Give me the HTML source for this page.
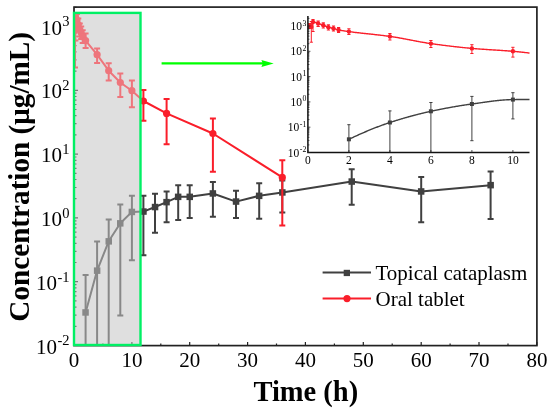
<!DOCTYPE html><html><head><meta charset="utf-8"><style>html,body{margin:0;padding:0;background:#fff;}svg{display:block;}text{font-family:"Liberation Serif","Times New Roman",serif;}</style></head><body><svg width="550" height="413" viewBox="0 0 550 413"><rect width="550" height="413" fill="#fff"/><defs><clipPath id="cp"><rect x="74.0" y="12.0" width="462.9" height="333.6"/></clipPath><clipPath id="ci"><rect x="307.9" y="10.0" width="221.6" height="142.5"/></clipPath></defs><rect x="74.0" y="12.9" width="66.5" height="332.1" fill="#dfdfdf"/><path d="M74.0,345.6V342.1M102.9,345.6V343.6M131.9,345.6V342.1M160.8,345.6V343.6M189.7,345.6V342.1M218.7,345.6V343.6M247.6,345.6V342.1M276.5,345.6V343.6M305.4,345.6V342.1M334.4,345.6V343.6M363.3,345.6V342.1M392.2,345.6V343.6M421.2,345.6V342.1M450.1,345.6V343.6M479.0,345.6V342.1M508.0,345.6V343.6M536.9,345.6V342.1M74.0,345.5H78.0M74.0,326.3H76.5M74.0,315.1H76.5M74.0,307.1H76.5M74.0,300.9H76.5M74.0,295.9H76.5M74.0,291.6H76.5M74.0,287.9H76.5M74.0,284.6H76.5M74.0,281.7H78.0M74.0,262.5H76.5M74.0,251.3H76.5M74.0,243.3H76.5M74.0,237.1H76.5M74.0,232.1H76.5M74.0,227.8H76.5M74.0,224.1H76.5M74.0,220.8H76.5M74.0,217.9H78.0M74.0,198.7H76.5M74.0,187.5H76.5M74.0,179.5H76.5M74.0,173.3H76.5M74.0,168.3H76.5M74.0,164.0H76.5M74.0,160.3H76.5M74.0,157.0H76.5M74.0,154.1H78.0M74.0,134.9H76.5M74.0,123.7H76.5M74.0,115.7H76.5M74.0,109.5H76.5M74.0,104.5H76.5M74.0,100.2H76.5M74.0,96.5H76.5M74.0,93.2H76.5M74.0,90.3H78.0M74.0,71.1H76.5M74.0,59.9H76.5M74.0,51.9H76.5M74.0,45.7H76.5M74.0,40.7H76.5M74.0,36.4H76.5M74.0,32.7H76.5M74.0,29.4H76.5M74.0,26.5H78.0M74.0,7.3H76.5" stroke="#222" stroke-width="1.2" fill="none"/><g clip-path="url(#cp)"><path d="M85.6,312.5 L97.1,270.6 L108.7,241.3 L120.3,223.3 L131.9,211.9 L143.4,211.6 L155.0,207.0 L166.6,202.2 L178.2,196.8 L189.7,196.8 L212.9,193.5 L236.0,201.6 L259.2,195.8 L282.3,192.5 L351.7,181.6 L421.2,191.4 L490.6,185.2" fill="none" stroke="#404040" stroke-width="2.00" stroke-linejoin="round"/><path d="M85.6,275.0V350.0M82.6,275.0H88.6M82.6,350.0H88.6M97.1,241.4V350.0M94.1,241.4H100.1M94.1,350.0H100.1M108.7,219.5V350.0M105.7,219.5H111.7M105.7,350.0H111.7M120.3,204.5V315.5M117.3,204.5H123.3M117.3,315.5H123.3M131.9,195.8V260.2M128.9,195.8H134.9M128.9,260.2H134.9M143.4,195.7V255.2M140.4,195.7H146.4M140.4,255.2H146.4M155.0,193.7V232.7M152.0,193.7H158.0M152.0,232.7H158.0M166.6,191.6V222.3M163.6,191.6H169.6M163.6,222.3H169.6M178.2,185.2V220.1M175.2,185.2H181.2M175.2,220.1H181.2M189.7,185.2V217.9M186.7,185.2H192.7M186.7,217.9H192.7M212.9,182.0V216.8M209.9,182.0H215.9M209.9,216.8H215.9M236.0,190.7V218.0M233.0,190.7H239.0M233.0,218.0H239.0M259.2,183.3V218.7M256.2,183.3H262.2M256.2,218.7H262.2M282.3,180.5V212.5M279.3,180.5H285.3M279.3,212.5H285.3M351.7,169.2V204.8M348.7,169.2H354.7M348.7,204.8H354.7M421.2,177.0V222.2M418.2,177.0H424.2M418.2,222.2H424.2M490.6,171.5V218.9M487.6,171.5H493.6M487.6,218.9H493.6" fill="none" stroke="#404040" stroke-width="2.00"/><rect x="82.3" y="309.2" width="6.5" height="6.5" fill="#404040"/><rect x="93.9" y="267.4" width="6.5" height="6.5" fill="#404040"/><rect x="105.5" y="238.1" width="6.5" height="6.5" fill="#404040"/><rect x="117.0" y="220.1" width="6.5" height="6.5" fill="#404040"/><rect x="128.6" y="208.7" width="6.5" height="6.5" fill="#404040"/><rect x="140.2" y="208.3" width="6.5" height="6.5" fill="#404040"/><rect x="151.8" y="203.8" width="6.5" height="6.5" fill="#404040"/><rect x="163.3" y="198.9" width="6.5" height="6.5" fill="#404040"/><rect x="174.9" y="193.6" width="6.5" height="6.5" fill="#404040"/><rect x="186.5" y="193.6" width="6.5" height="6.5" fill="#404040"/><rect x="209.6" y="190.2" width="6.5" height="6.5" fill="#404040"/><rect x="232.8" y="198.3" width="6.5" height="6.5" fill="#404040"/><rect x="255.9" y="192.6" width="6.5" height="6.5" fill="#404040"/><rect x="279.1" y="189.2" width="6.5" height="6.5" fill="#404040"/><rect x="348.5" y="178.3" width="6.5" height="6.5" fill="#404040"/><rect x="417.9" y="188.2" width="6.5" height="6.5" fill="#404040"/><rect x="487.4" y="181.9" width="6.5" height="6.5" fill="#404040"/><path d="M74.5,26.5 L75.0,28.8 L75.4,16.4 L76.9,20.2 L78.3,24.7 L79.8,29.5 L81.2,32.8 L82.7,36.6 L85.6,40.6 L97.1,54.7 L108.7,70.7 L120.3,82.5 L131.9,90.7 L143.4,101.0 L166.6,113.4 L212.9,133.5 L282.3,177.4" fill="none" stroke="#fa1e2a" stroke-width="2.00" stroke-linejoin="round"/><path d="M74.5,20.2V32.8M71.5,20.2H77.5M71.5,32.8H77.5M75.0,15.2V67.4M72.0,15.2H78.0M72.0,67.4H78.0M75.4,10.1V40.4M72.4,10.1H78.4M72.4,40.4H78.4M76.9,13.9V27.8M73.9,13.9H79.9M73.9,27.8H79.9M78.3,18.4V31.5M75.3,18.4H81.3M75.3,31.5H81.3M79.8,23.5V36.6M76.8,23.5H82.8M76.8,36.6H82.8M81.2,26.5V39.1M78.2,26.5H84.2M78.2,39.1H84.2M82.7,30.3V42.9M79.7,30.3H85.7M79.7,42.9H85.7M85.6,33.6V47.9M82.6,33.6H88.6M82.6,47.9H88.6M97.1,48.5V62.9M94.1,48.5H100.1M94.1,62.9H100.1M108.7,63.3V80.4M105.7,63.3H111.7M105.7,80.4H111.7M120.3,73.6V96.9M117.3,73.6H123.3M117.3,96.9H123.3M131.9,80.4V107.2M128.9,80.4H134.9M128.9,107.2H134.9M143.4,89.9V120.8M140.4,89.9H146.4M140.4,120.8H146.4M166.6,99.0V144.3M163.6,99.0H169.6M163.6,144.3H169.6M212.9,118.6V171.8M209.9,118.6H215.9M209.9,171.8H215.9M282.3,160.2V225.6M279.3,160.2H285.3M279.3,225.6H285.3" fill="none" stroke="#fa1e2a" stroke-width="2.00"/><circle cx="74.5" cy="26.5" r="3.6" fill="#fa1e2a"/><circle cx="75.0" cy="28.8" r="3.6" fill="#fa1e2a"/><circle cx="75.4" cy="16.4" r="3.6" fill="#fa1e2a"/><circle cx="76.9" cy="20.2" r="3.6" fill="#fa1e2a"/><circle cx="78.3" cy="24.7" r="3.6" fill="#fa1e2a"/><circle cx="79.8" cy="29.5" r="3.6" fill="#fa1e2a"/><circle cx="81.2" cy="32.8" r="3.6" fill="#fa1e2a"/><circle cx="82.7" cy="36.6" r="3.6" fill="#fa1e2a"/><circle cx="85.6" cy="40.6" r="3.6" fill="#fa1e2a"/><circle cx="97.1" cy="54.7" r="3.6" fill="#fa1e2a"/><circle cx="108.7" cy="70.7" r="3.6" fill="#fa1e2a"/><circle cx="120.3" cy="82.5" r="3.6" fill="#fa1e2a"/><circle cx="131.9" cy="90.7" r="3.6" fill="#fa1e2a"/><circle cx="143.4" cy="101.0" r="3.6" fill="#fa1e2a"/><circle cx="166.6" cy="113.4" r="3.6" fill="#fa1e2a"/><circle cx="212.9" cy="133.5" r="3.6" fill="#fa1e2a"/><circle cx="282.3" cy="177.4" r="3.6" fill="#fa1e2a"/></g><rect x="74.0" y="12.9" width="66.5" height="332.1" fill="#dfdfdf" fill-opacity="0.45"/><rect x="74.0" y="7.1" width="462.9" height="338.5" fill="none" stroke="#222" stroke-width="1.7"/><rect x="74.0" y="12.9" width="66.5" height="332.1" fill="none" stroke="#00f064" stroke-width="2.4"/><path d="M161.6,63.4H263" stroke="#00ff00" stroke-width="2.4"/><path d="M273.7,63.4L261.4,60L262.8,63.4L261.4,66.9Z" fill="#00ff00"/><text x="74.0" y="366.8" font-size="21" text-anchor="middle">0</text><text x="131.9" y="366.8" font-size="21" text-anchor="middle">10</text><text x="189.7" y="366.8" font-size="21" text-anchor="middle">20</text><text x="247.6" y="366.8" font-size="21" text-anchor="middle">30</text><text x="305.4" y="366.8" font-size="21" text-anchor="middle">40</text><text x="363.3" y="366.8" font-size="21" text-anchor="middle">50</text><text x="421.2" y="366.8" font-size="21" text-anchor="middle">60</text><text x="479.0" y="366.8" font-size="21" text-anchor="middle">70</text><text x="536.9" y="366.8" font-size="21" text-anchor="middle">80</text><text x="69.6" y="353.5" font-size="21" text-anchor="end">10<tspan dx="0.4" dy="-8.2" font-size="14.5">-2</tspan></text><text x="69.6" y="289.7" font-size="21" text-anchor="end">10<tspan dx="0.4" dy="-8.2" font-size="14.5">-1</tspan></text><text x="69.6" y="225.9" font-size="21" text-anchor="end">10<tspan dx="0.4" dy="-8.2" font-size="14.5">0</tspan></text><text x="69.6" y="162.1" font-size="21" text-anchor="end">10<tspan dx="0.4" dy="-8.2" font-size="14.5">1</tspan></text><text x="69.6" y="98.3" font-size="21" text-anchor="end">10<tspan dx="0.4" dy="-8.2" font-size="14.5">2</tspan></text><text x="69.6" y="34.5" font-size="21" text-anchor="end">10<tspan dx="0.4" dy="-8.2" font-size="14.5">3</tspan></text><text x="305.8" y="400.8" font-size="28.5" font-weight="bold" text-anchor="middle">Time (h)</text><text transform="translate(28.7,176.8) rotate(-90)" font-size="29.2" font-weight="bold" text-anchor="middle">Concentration (μg/mL)</text><path d="M322.6,272.6H371" stroke="#404040" stroke-width="2"/><rect x="343.7" y="269.8" width="6.3" height="6.3" fill="#404040"/><path d="M322.6,298.6H371" stroke="#fa1e2a" stroke-width="2"/><circle cx="347" cy="298.6" r="3.6" fill="#fa1e2a"/><text x="375.5" y="279.6" font-size="21">Topical cataplasm</text><text x="375.5" y="305.6" font-size="21">Oral tablet</text><g clip-path="url(#ci)"><path d="M348.90,139.30 L349.52,139.01 L350.13,138.71 L350.75,138.42 L351.37,138.13 L351.98,137.84 L352.60,137.55 L353.22,137.26 L353.83,136.98 L354.45,136.69 L355.07,136.41 L355.68,136.12 L356.30,135.84 L356.92,135.56 L357.53,135.28 L358.15,135.00 L358.76,134.72 L359.38,134.45 L360.00,134.17 L360.61,133.90 L361.23,133.62 L361.85,133.35 L362.46,133.08 L363.08,132.81 L363.70,132.54 L364.31,132.28 L364.93,132.01 L365.55,131.75 L366.16,131.49 L366.78,131.23 L367.40,130.97 L368.01,130.71 L368.63,130.45 L369.25,130.19 L369.86,129.94 L370.48,129.69 L371.10,129.43 L371.71,129.18 L372.33,128.94 L372.95,128.69 L373.56,128.44 L374.18,128.20 L374.79,127.96 L375.41,127.71 L376.03,127.47 L376.64,127.24 L377.26,127.00 L377.88,126.76 L378.49,126.53 L379.11,126.30 L379.73,126.07 L380.34,125.84 L380.96,125.61 L381.58,125.39 L382.19,125.16 L382.81,124.94 L383.43,124.72 L384.04,124.50 L384.66,124.28 L385.28,124.06 L385.89,123.85 L386.51,123.64 L387.13,123.43 L387.74,123.22 L388.36,123.01 L388.98,122.81 L389.59,122.60 L390.21,122.40 L390.82,122.20 L391.44,122.00 L392.06,121.80 L392.67,121.60 L393.29,121.40 L393.91,121.21 L394.52,121.01 L395.14,120.82 L395.76,120.62 L396.37,120.43 L396.99,120.24 L397.61,120.05 L398.22,119.86 L398.84,119.67 L399.46,119.48 L400.07,119.30 L400.69,119.11 L401.31,118.93 L401.92,118.74 L402.54,118.56 L403.16,118.38 L403.77,118.20 L404.39,118.02 L405.01,117.84 L405.62,117.66 L406.24,117.49 L406.85,117.31 L407.47,117.14 L408.09,116.97 L408.70,116.79 L409.32,116.62 L409.94,116.45 L410.55,116.28 L411.17,116.11 L411.79,115.95 L412.40,115.78 L413.02,115.62 L413.64,115.45 L414.25,115.29 L414.87,115.13 L415.49,114.97 L416.10,114.81 L416.72,114.65 L417.34,114.49 L417.95,114.33 L418.57,114.18 L419.19,114.03 L419.80,113.87 L420.42,113.72 L421.04,113.57 L421.65,113.42 L422.27,113.27 L422.88,113.12 L423.50,112.98 L424.12,112.83 L424.73,112.68 L425.35,112.54 L425.97,112.40 L426.58,112.26 L427.20,112.12 L427.82,111.98 L428.43,111.84 L429.05,111.70 L429.67,111.57 L430.28,111.43 L430.90,111.30 L431.52,111.17 L432.13,111.04 L432.75,110.90 L433.37,110.77 L433.98,110.64 L434.60,110.51 L435.22,110.38 L435.83,110.26 L436.45,110.13 L437.07,110.00 L437.68,109.87 L438.30,109.75 L438.92,109.62 L439.53,109.50 L440.15,109.37 L440.76,109.25 L441.38,109.13 L442.00,109.01 L442.61,108.88 L443.23,108.76 L443.85,108.64 L444.46,108.52 L445.08,108.41 L445.70,108.29 L446.31,108.17 L446.93,108.05 L447.55,107.94 L448.16,107.82 L448.78,107.71 L449.40,107.60 L450.01,107.48 L450.63,107.37 L451.25,107.26 L451.86,107.15 L452.48,107.04 L453.10,106.93 L453.71,106.82 L454.33,106.71 L454.95,106.61 L455.56,106.50 L456.18,106.40 L456.79,106.29 L457.41,106.19 L458.03,106.09 L458.64,105.98 L459.26,105.88 L459.88,105.78 L460.49,105.68 L461.11,105.58 L461.73,105.49 L462.34,105.39 L462.96,105.29 L463.58,105.20 L464.19,105.10 L464.81,105.01 L465.43,104.92 L466.04,104.83 L466.66,104.74 L467.28,104.65 L467.89,104.56 L468.51,104.47 L469.13,104.38 L469.74,104.29 L470.36,104.21 L470.98,104.12 L471.59,104.04 L472.21,103.96 L472.82,103.88 L473.44,103.79 L474.06,103.71 L474.67,103.62 L475.29,103.53 L475.91,103.45 L476.52,103.36 L477.14,103.27 L477.76,103.19 L478.37,103.10 L478.99,103.01 L479.61,102.92 L480.22,102.83 L480.84,102.75 L481.46,102.66 L482.07,102.57 L482.69,102.48 L483.31,102.39 L483.92,102.31 L484.54,102.22 L485.16,102.13 L485.77,102.05 L486.39,101.96 L487.01,101.87 L487.62,101.79 L488.24,101.71 L488.85,101.62 L489.47,101.54 L490.09,101.46 L490.70,101.38 L491.32,101.30 L491.94,101.22 L492.55,101.14 L493.17,101.07 L493.79,100.99 L494.40,100.92 L495.02,100.84 L495.64,100.77 L496.25,100.70 L496.87,100.64 L497.49,100.57 L498.10,100.50 L498.72,100.44 L499.34,100.38 L499.95,100.32 L500.57,100.26 L501.19,100.21 L501.80,100.15 L502.42,100.10 L503.04,100.05 L503.65,100.01 L504.27,99.96 L504.88,99.92 L505.50,99.88 L506.12,99.84 L506.73,99.80 L507.35,99.77 L507.97,99.74 L508.58,99.71 L509.20,99.69 L509.82,99.67 L510.43,99.65 L511.05,99.63 L511.67,99.62 L512.28,99.61 L512.90,99.60 L513.52,99.59 L514.13,99.59 L514.75,99.58 L515.37,99.58 L515.98,99.57 L516.60,99.57 L517.22,99.56 L517.83,99.56 L518.45,99.56 L519.07,99.55 L519.68,99.55 L520.30,99.55 L520.92,99.54 L521.53,99.54 L522.15,99.54 L522.76,99.53 L523.38,99.53 L524.00,99.53 L524.61,99.52 L525.23,99.52 L525.85,99.52 L526.46,99.52 L527.08,99.51 L527.70,99.51 L528.31,99.51 L528.93,99.51 L529.55,99.51 L530.16,99.50 L530.78,99.50 L531.40,99.50 L532.01,99.50 L532.63,99.50 L533.25,99.49 L533.86,99.49 L534.48,99.49 L535.10,99.49 L535.71,99.49 L536.33,99.48 L536.95,99.48 L537.56,99.48 L538.18,99.48 L538.79,99.48 L539.41,99.47 L540.03,99.47 L540.64,99.47 L541.26,99.47 L541.88,99.47 L542.49,99.46 L543.11,99.46 L543.73,99.46 L544.34,99.46 L544.96,99.45 L545.58,99.45 L546.19,99.45 L546.81,99.45 L547.43,99.44 L548.04,99.44 L548.66,99.44 L549.28,99.43 L549.89,99.43 L550.51,99.42 L551.13,99.42 L551.74,99.42 L552.36,99.41 L552.98,99.41 L553.59,99.40 L554.21,99.40 L554.82,99.39 L555.44,99.39 L556.06,99.38 L556.67,99.37 L557.29,99.37 L557.91,99.36 L558.52,99.35 L559.14,99.35 L559.76,99.34 L560.37,99.33 L560.99,99.32 L561.61,99.31 L562.22,99.30 L562.84,99.29 L563.46,99.28 L564.07,99.27 L564.69,99.26 L565.31,99.25 L565.92,99.24 L566.54,99.23 L567.16,99.22 L567.77,99.21 L568.39,99.19 L569.01,99.18 L569.62,99.17 L570.24,99.16 L570.85,99.14 L571.47,99.13 L572.09,99.12 L572.70,99.10 L573.32,99.09 L573.94,99.08 L574.55,99.06 L575.17,99.05 L575.79,99.03 L576.40,99.02 L577.02,99.00 L577.64,98.99 L578.25,98.97 L578.87,98.96 L579.49,98.94 L580.10,98.92 L580.72,98.91 L581.34,98.89 L581.95,98.88 L582.57,98.86 L583.19,98.84 L583.80,98.82 L584.42,98.81 L585.04,98.79 L585.65,98.77 L586.27,98.76 L586.88,98.74 L587.50,98.72 L588.12,98.70 L588.73,98.68 L589.35,98.67 L589.97,98.65 L590.58,98.63 L591.20,98.61 L591.82,98.59 L592.43,98.57 L593.05,98.56 L593.67,98.54 L594.28,98.52 L594.90,98.50" fill="none" stroke="#404040" stroke-width="1.4"/><path d="M348.9,124.7V160.0M347.3,124.7H350.5M347.3,160.0H350.5M389.9,110.9V160.0M388.3,110.9H391.5M388.3,160.0H391.5M430.9,102.5V160.0M429.3,102.5H432.5M429.3,160.0H432.5M471.9,96.4V140.7M470.3,96.4H473.5M470.3,140.7H473.5M512.9,92.7V118.9M511.3,92.7H514.5M511.3,118.9H514.5M553.9,93.0V115.0M552.3,93.0H555.5M552.3,115.0H555.5M594.9,92.0V110.0M593.3,92.0H596.5M593.3,110.0H596.5" fill="none" stroke="#404040" stroke-width="1.0"/><rect x="346.9" y="137.3" width="4" height="4" fill="#404040"/><rect x="387.9" y="120.5" width="4" height="4" fill="#404040"/><rect x="428.9" y="109.3" width="4" height="4" fill="#404040"/><rect x="469.9" y="102.0" width="4" height="4" fill="#404040"/><rect x="510.9" y="97.6" width="4" height="4" fill="#404040"/><rect x="551.9" y="97.4" width="4" height="4" fill="#404040"/><rect x="592.9" y="96.5" width="4" height="4" fill="#404040"/><path d="M309.60,26.00 L310.42,26.77 L311.24,26.90 L312.05,24.96 L312.87,22.11 L313.69,22.05 L314.51,22.21 L315.33,22.45 L316.14,22.75 L316.96,23.07 L317.78,23.38 L318.60,23.64 L319.41,23.92 L320.23,24.20 L321.05,24.49 L321.87,24.79 L322.69,25.09 L323.50,25.38 L324.32,25.69 L325.14,26.01 L325.96,26.33 L326.78,26.65 L327.59,26.94 L328.41,27.20 L329.23,27.44 L330.05,27.65 L330.86,27.85 L331.68,28.04 L332.50,28.24 L333.32,28.44 L334.14,28.67 L334.95,28.93 L335.77,29.19 L336.59,29.45 L337.41,29.69 L338.22,29.90 L339.04,30.08 L339.86,30.24 L340.68,30.39 L341.50,30.54 L342.31,30.67 L343.13,30.80 L343.95,30.92 L344.77,31.04 L345.58,31.15 L346.40,31.26 L347.22,31.37 L348.04,31.48 L348.86,31.59 L349.67,31.71 L350.49,31.82 L351.31,31.92 L352.13,32.03 L352.94,32.13 L353.76,32.24 L354.58,32.34 L355.40,32.44 L356.22,32.53 L357.03,32.63 L357.85,32.73 L358.67,32.82 L359.49,32.91 L360.30,33.00 L361.12,33.10 L361.94,33.19 L362.76,33.28 L363.58,33.36 L364.39,33.45 L365.21,33.54 L366.03,33.63 L366.85,33.71 L367.66,33.80 L368.48,33.89 L369.30,33.98 L370.12,34.06 L370.94,34.15 L371.75,34.24 L372.57,34.32 L373.39,34.41 L374.21,34.50 L375.02,34.59 L375.84,34.68 L376.66,34.77 L377.48,34.86 L378.30,34.95 L379.11,35.04 L379.93,35.14 L380.75,35.23 L381.57,35.33 L382.38,35.43 L383.20,35.53 L384.02,35.63 L384.84,35.73 L385.66,35.83 L386.47,35.94 L387.29,36.04 L388.11,36.15 L388.93,36.26 L389.74,36.38 L390.56,36.49 L391.38,36.61 L392.20,36.74 L393.02,36.86 L393.83,36.99 L394.65,37.12 L395.47,37.25 L396.29,37.39 L397.11,37.53 L397.92,37.67 L398.74,37.81 L399.56,37.96 L400.38,38.11 L401.19,38.25 L402.01,38.40 L402.83,38.56 L403.65,38.71 L404.47,38.86 L405.28,39.02 L406.10,39.17 L406.92,39.33 L407.74,39.49 L408.55,39.64 L409.37,39.80 L410.19,39.96 L411.01,40.12 L411.83,40.28 L412.64,40.43 L413.46,40.59 L414.28,40.75 L415.10,40.90 L415.91,41.06 L416.73,41.21 L417.55,41.37 L418.37,41.52 L419.19,41.67 L420.00,41.82 L420.82,41.97 L421.64,42.11 L422.46,42.26 L423.27,42.40 L424.09,42.54 L424.91,42.68 L425.73,42.81 L426.55,42.94 L427.36,43.07 L428.18,43.20 L429.00,43.32 L429.82,43.44 L430.63,43.56 L431.45,43.68 L432.27,43.79 L433.09,43.91 L433.91,44.02 L434.72,44.13 L435.54,44.24 L436.36,44.35 L437.18,44.46 L437.99,44.57 L438.81,44.68 L439.63,44.79 L440.45,44.90 L441.27,45.01 L442.08,45.11 L442.90,45.22 L443.72,45.32 L444.54,45.43 L445.35,45.53 L446.17,45.63 L446.99,45.73 L447.81,45.83 L448.63,45.93 L449.44,46.03 L450.26,46.13 L451.08,46.23 L451.90,46.33 L452.71,46.42 L453.53,46.52 L454.35,46.61 L455.17,46.71 L455.99,46.80 L456.80,46.89 L457.62,46.98 L458.44,47.07 L459.26,47.16 L460.07,47.25 L460.89,47.33 L461.71,47.42 L462.53,47.50 L463.35,47.59 L464.16,47.67 L464.98,47.75 L465.80,47.83 L466.62,47.91 L467.44,47.99 L468.25,48.07 L469.07,48.14 L469.89,48.22 L470.71,48.29 L471.52,48.37 L472.34,48.44 L473.16,48.51 L473.98,48.58 L474.80,48.65 L475.61,48.71 L476.43,48.78 L477.25,48.84 L478.07,48.90 L478.88,48.96 L479.70,49.02 L480.52,49.08 L481.34,49.14 L482.16,49.20 L482.97,49.26 L483.79,49.31 L484.61,49.37 L485.43,49.42 L486.24,49.48 L487.06,49.53 L487.88,49.58 L488.70,49.63 L489.52,49.69 L490.33,49.74 L491.15,49.79 L491.97,49.84 L492.79,49.89 L493.60,49.94 L494.42,50.00 L495.24,50.05 L496.06,50.10 L496.88,50.15 L497.69,50.20 L498.51,50.26 L499.33,50.31 L500.15,50.36 L500.96,50.42 L501.78,50.47 L502.60,50.53 L503.42,50.58 L504.24,50.64 L505.05,50.70 L505.87,50.75 L506.69,50.81 L507.51,50.87 L508.32,50.93 L509.14,51.00 L509.96,51.06 L510.78,51.13 L511.60,51.19 L512.41,51.26 L513.23,51.33 L514.05,51.40 L514.87,51.47 L515.68,51.55 L516.50,51.63 L517.32,51.71 L518.14,51.79 L518.96,51.87 L519.77,51.95 L520.59,52.04 L521.41,52.13 L522.23,52.22 L523.04,52.31 L523.86,52.40 L524.68,52.49 L525.50,52.58 L526.32,52.68 L527.13,52.77 L527.95,52.86 L528.77,52.96 L529.59,53.06 L530.40,53.15 L531.22,53.25 L532.04,53.35 L532.86,53.44 L533.68,53.54 L534.49,53.63 L535.31,53.73 L536.13,53.83 L536.95,53.92 L537.77,54.01 L538.58,54.11 L539.40,54.20 L540.22,54.29 L541.04,54.38 L541.85,54.47 L542.67,54.56 L543.49,54.65 L544.31,54.73 L545.13,54.82 L545.94,54.90 L546.76,54.98 L547.58,55.06 L548.40,55.14 L549.21,55.21 L550.03,55.29 L550.85,55.36 L551.67,55.43 L552.49,55.49 L553.30,55.56 L554.12,55.62 L554.94,55.68 L555.76,55.74 L556.57,55.80 L557.39,55.86 L558.21,55.92 L559.03,55.98 L559.85,56.03 L560.66,56.09 L561.48,56.15 L562.30,56.21 L563.12,56.27 L563.93,56.33 L564.75,56.39 L565.57,56.45 L566.39,56.50 L567.21,56.56 L568.02,56.62 L568.84,56.68 L569.66,56.73 L570.48,56.79 L571.29,56.85 L572.11,56.90 L572.93,56.96 L573.75,57.02 L574.57,57.07 L575.38,57.13 L576.20,57.18 L577.02,57.24 L577.84,57.29 L578.65,57.35 L579.47,57.40 L580.29,57.46 L581.11,57.51 L581.93,57.56 L582.74,57.61 L583.56,57.67 L584.38,57.72 L585.20,57.77 L586.01,57.82 L586.83,57.87 L587.65,57.92 L588.47,57.97 L589.29,58.02 L590.10,58.07 L590.92,58.12 L591.74,58.17 L592.56,58.22 L593.37,58.27 L594.19,58.31 L595.01,58.36 L595.83,58.41 L596.65,58.45 L597.46,58.50 L598.28,58.54 L599.10,58.59 L599.92,58.63 L600.73,58.68 L601.55,58.72 L602.37,58.76 L603.19,58.81 L604.01,58.85 L604.82,58.89 L605.64,58.93 L606.46,58.97 L607.28,59.01 L608.10,59.05 L608.91,59.09 L609.73,59.12 L610.55,59.16 L611.37,59.20 L612.18,59.23 L613.00,59.27 L613.82,59.30 L614.64,59.34 L615.46,59.37 L616.27,59.41 L617.09,59.44 L617.91,59.47 L618.73,59.50 L619.54,59.53 L620.36,59.56 L621.18,59.59 L622.00,59.62 L622.82,59.65 L623.63,59.68 L624.45,59.70 L625.27,59.73 L626.09,59.75 L626.90,59.78 L627.72,59.80 L628.54,59.83 L629.36,59.85 L630.18,59.87 L630.99,59.89 L631.81,59.91 L632.63,59.93 L633.45,59.95 L634.26,59.97 L635.08,59.98 L635.90,60.00" fill="none" stroke="#fa1e2a" stroke-width="1.4"/><path d="M309.6,23.5V28.5M308.0,23.5H311.2M308.0,28.5H311.2M311.3,21.5V42.2M309.7,21.5H312.9M309.7,42.2H312.9M313.0,19.5V31.5M311.4,19.5H314.6M311.4,31.5H314.6M318.1,21.0V26.5M316.5,21.0H319.8M316.5,26.5H319.8M323.3,22.8V28.0M321.7,22.8H324.9M321.7,28.0H324.9M328.4,24.8V30.0M326.8,24.8H330.0M326.8,30.0H330.0M333.5,26.0V31.0M331.9,26.0H335.1M331.9,31.0H335.1M338.6,27.5V32.5M337.0,27.5H340.2M337.0,32.5H340.2M348.9,28.8V34.5M347.3,28.8H350.5M347.3,34.5H350.5M389.9,33.5V40.0M388.3,33.5H391.5M388.3,40.0H391.5M430.9,40.5V47.5M429.3,40.5H432.5M429.3,47.5H432.5M471.9,44.7V53.5M470.3,44.7H473.5M470.3,53.5H473.5M512.9,47.3V57.1M511.3,47.3H514.5M511.3,57.1H514.5M553.9,50.0V61.0M552.3,50.0H555.5M552.3,61.0H555.5M635.9,55.0V68.0M634.3,55.0H637.5M634.3,68.0H637.5" fill="none" stroke="#fa1e2a" stroke-width="1.0"/><circle cx="309.6" cy="26.0" r="2.2" fill="#fa1e2a"/><circle cx="311.3" cy="26.9" r="2.2" fill="#fa1e2a"/><circle cx="313.0" cy="22.0" r="2.2" fill="#fa1e2a"/><circle cx="318.1" cy="23.5" r="2.2" fill="#fa1e2a"/><circle cx="323.3" cy="25.3" r="2.2" fill="#fa1e2a"/><circle cx="328.4" cy="27.2" r="2.2" fill="#fa1e2a"/><circle cx="333.5" cy="28.5" r="2.2" fill="#fa1e2a"/><circle cx="338.6" cy="30.0" r="2.2" fill="#fa1e2a"/><circle cx="348.9" cy="31.6" r="2.2" fill="#fa1e2a"/><circle cx="389.9" cy="36.4" r="2.2" fill="#fa1e2a"/><circle cx="430.9" cy="43.6" r="2.2" fill="#fa1e2a"/><circle cx="471.9" cy="48.4" r="2.2" fill="#fa1e2a"/><circle cx="512.9" cy="51.3" r="2.2" fill="#fa1e2a"/><circle cx="553.9" cy="55.6" r="2.2" fill="#fa1e2a"/><circle cx="635.9" cy="60.0" r="2.2" fill="#fa1e2a"/></g><path d="M307.9,16.0V152.5H529.5" fill="none" stroke="#111" stroke-width="1.5"/><path d="M307.9,152.5V150.0M348.9,152.5V150.0M389.9,152.5V150.0M430.9,152.5V150.0M471.9,152.5V150.0M512.9,152.5V150.0M307.9,152.5H310.4M307.9,144.9H309.4M307.9,140.4H309.4M307.9,137.3H309.4M307.9,134.8H309.4M307.9,132.8H309.4M307.9,131.1H309.4M307.9,129.7H309.4M307.9,128.4H309.4M307.9,127.2H310.4M307.9,119.6H309.4M307.9,115.1H309.4M307.9,112.0H309.4M307.9,109.5H309.4M307.9,107.5H309.4M307.9,105.8H309.4M307.9,104.4H309.4M307.9,103.1H309.4M307.9,101.9H310.4M307.9,94.3H309.4M307.9,89.8H309.4M307.9,86.7H309.4M307.9,84.2H309.4M307.9,82.2H309.4M307.9,80.5H309.4M307.9,79.1H309.4M307.9,77.8H309.4M307.9,76.6H310.4M307.9,69.0H309.4M307.9,64.5H309.4M307.9,61.4H309.4M307.9,58.9H309.4M307.9,56.9H309.4M307.9,55.2H309.4M307.9,53.8H309.4M307.9,52.5H309.4M307.9,51.3H310.4M307.9,43.7H309.4M307.9,39.2H309.4M307.9,36.1H309.4M307.9,33.6H309.4M307.9,31.6H309.4M307.9,29.9H309.4M307.9,28.5H309.4M307.9,27.2H309.4M307.9,26.0H310.4M307.9,18.4H309.4" stroke="#222" stroke-width="0.8" fill="none"/><text x="307.9" y="163.8" font-size="11.5" text-anchor="middle">0</text><text x="348.9" y="163.8" font-size="11.5" text-anchor="middle">2</text><text x="389.9" y="163.8" font-size="11.5" text-anchor="middle">4</text><text x="430.9" y="163.8" font-size="11.5" text-anchor="middle">6</text><text x="471.9" y="163.8" font-size="11.5" text-anchor="middle">8</text><text x="512.9" y="163.8" font-size="11.5" text-anchor="middle">10</text><text x="306.3" y="156.6" font-size="11.5" text-anchor="end">10<tspan dx="0.5" dy="-4.6" font-size="7.8">-2</tspan></text><text x="306.3" y="131.3" font-size="11.5" text-anchor="end">10<tspan dx="0.5" dy="-4.6" font-size="7.8">-1</tspan></text><text x="306.3" y="106.0" font-size="11.5" text-anchor="end">10<tspan dx="0.5" dy="-4.6" font-size="7.8">0</tspan></text><text x="306.3" y="80.7" font-size="11.5" text-anchor="end">10<tspan dx="0.5" dy="-4.6" font-size="7.8">1</tspan></text><text x="306.3" y="55.4" font-size="11.5" text-anchor="end">10<tspan dx="0.5" dy="-4.6" font-size="7.8">2</tspan></text><text x="306.3" y="30.1" font-size="11.5" text-anchor="end">10<tspan dx="0.5" dy="-4.6" font-size="7.8">3</tspan></text></svg></body></html>
